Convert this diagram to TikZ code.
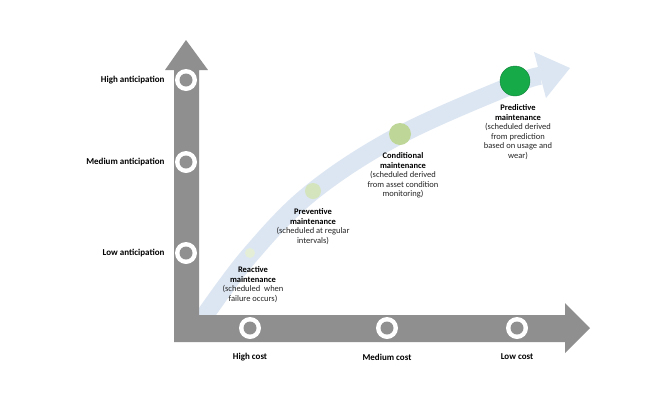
\documentclass[tikz,border=0pt]{standalone}
\usepackage{fontspec}
\setmainfont{Carlito}
\begin{document}
\begin{tikzpicture}[x=1pt,y=-1pt,
 ax/.style={fill=gray!75!black!70,draw=none},
 ring/.style={circle,fill=white,minimum size=22pt,inner sep=0pt,path picture={\fill[gray!75!black!70] (path picture bounding box.center) circle (6.5pt);}},
 lab/.style={font=\bfseries\fontsize{9}{10}\selectfont,text=black},
 desc/.style={align=center,font=\fontsize{8.5}{10.5}\selectfont,text=black!85},
 dot/.style={circle,inner sep=0pt}]
\useasboundingbox (0,0) rectangle (670,400);
\fill[white] (0,0) rectangle (670,400);
% curved arrow
\draw[line width=18pt,color={rgb,255:red,220;green,230;blue,242}] plot[smooth,tension=0.6] coordinates {(203,318) (250,255) (312,192) (400,135) (515,84) (542,76)};
\fill[color={rgb,255:red,220;green,230;blue,242}] (570,68) -- (546,98) -- (534,52) -- cycle;
% axes
\fill[ax] (174,342) -- (174,70) -- (165,70) -- (186,40) -- (208,70) -- (199,70) -- (199,315) -- (565,315) -- (565,303) -- (590,328) -- (565,353) -- (565,342) -- cycle;
\node[ring] (h) at (186,80) {};
\node[ring] (m) at (186,162) {};
\node[ring] (l) at (186,253) {};
\node[ring] (hc) at (250,328) {};
\node[ring] (mc) at (387,328) {};
\node[ring] (lc) at (517,328) {};
\node[lab,anchor=east] (th) at (168,80) {High anticipation};
\node[lab,anchor=east] (tm) at (168,162) {Medium anticipation};
\node[lab,anchor=east] (tl) at (168,253) {Low anticipation};
\node[lab] (thc) at (250,357) {High cost};
\node[lab] (tmc) at (387,357) {Medium cost};
\node[lab] (tlc) at (517,357) {Low cost};
% dots
\node[dot,minimum size=10pt,fill={rgb,255:red,228;green,238;blue,215}] (d1) at (250,253) {};
\node[dot,minimum size=16pt,fill={rgb,255:red,212;green,228;blue,188}] (d2) at (313,191) {};
\node[dot,minimum size=22pt,fill={rgb,255:red,190;green,214;blue,152}] (d3) at (400,134) {};
\node[dot,minimum size=30pt,fill={rgb,255:red,22;green,170;blue,72},draw={rgb,255:red,20;green,130;blue,60}] (d4) at (515,81) {};
% descriptions
\node[desc,anchor=north] (t1) at (253,263) {\textbf{\textcolor{black}{Reactive}}\\[-1pt]\textbf{\textcolor{black}{maintenance}}\\[-1pt](scheduled\ \ when\\[-1pt]failure occurs)};
\node[desc,anchor=north] (t2) at (313,205) {\textbf{\textcolor{black}{Preventive}}\\[-1pt]\textbf{\textcolor{black}{maintenance}}\\[-1pt](scheduled at regular\\[-1pt]intervals)};
\node[desc,anchor=north] (t3) at (403,149) {\textbf{\textcolor{black}{Conditional}}\\[-1pt]\textbf{\textcolor{black}{maintenance}}\\[-1pt](scheduled derived\\[-1pt]from asset condition\\[-1pt]monitoring)};
\node[desc,anchor=north] (t4) at (518,101) {\textbf{\textcolor{black}{Predictive}}\\[-1pt]\textbf{\textcolor{black}{maintenance}}\\[-1pt](scheduled derived\\[-1pt]from prediction\\[-1pt]based on usage and\\[-1pt]wear)};
\end{tikzpicture}
\end{document}
